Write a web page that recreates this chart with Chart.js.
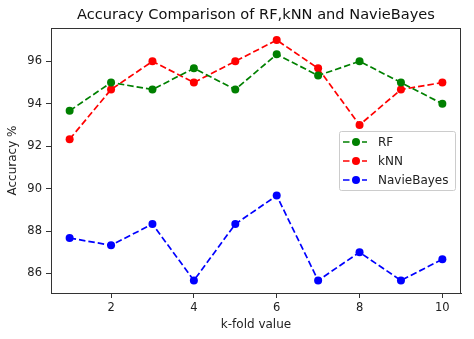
<!DOCTYPE html>
<html>
<head>
<meta charset="utf-8">
<script src="https://cdn.jsdelivr.net/npm/chart.js@4/dist/chart.umd.min.js"></script>
<style>
html,body{margin:0;padding:0;background:#fff;}
#wrap{width:474px;height:339px;position:relative;}
</style>
</head>
<body>
<div id="wrap"><canvas id="c" width="474" height="339"></canvas></div>
<script>
const folds = [1,2,3,4,5,6,7,8,9,10];
const rfAcc = [93.67,95.0,94.67,95.67,94.67,96.33,95.33,96.0,95.0,94.0];
const knnAcc = [92.33,94.67,96.0,95.0,96.0,97.0,95.67,93.0,94.67,95.0];
const nbAcc = [87.67,87.33,88.33,85.67,88.33,89.67,85.67,87.0,85.67,86.67];
const xTicks = [2,4,6,8,10];
const yTicks = [86,88,90,92,94,96];
const seriesNames = ['RF','kNN','NavieBayes'];
const seriesColors = ['#008000','#ff0000','#0000ff'];
const chartTitle = 'Accuracy Comparison of RF,kNN and NavieBayes';

const FONT = 'DejaVu Sans';
const DASH = [6.5,3];

function mk(name, vals, color){
  return {
    label: name,
    data: folds.map((f,i)=>({x:f,y:vals[i]})),
    borderColor: color,
    backgroundColor: color,
    borderWidth: 1.7,
    borderDash: DASH,
    pointRadius: 4,
    pointHoverRadius: 4,
    pointBorderWidth: 0,
    tension: 0,
    fill: false
  };
}

const framePlugin = {
  id: 'frame',
  afterDraw(chart){
    const ctx = chart.ctx, a = chart.chartArea;
    ctx.save();
    ctx.strokeStyle = '#333';
    ctx.lineWidth = 1;
    ctx.strokeRect(Math.round(a.left)+0.5, Math.round(a.top)+0.5, Math.round(a.right-a.left)-1, Math.round(a.bottom-a.top));
    // title centered over plot area
    ctx.fillStyle = '#111';
    ctx.font = '14.6px ' + FONT;
    ctx.textAlign = 'center';
    ctx.textBaseline = 'middle';
    ctx.fillText(chartTitle, (a.left + a.right)/2, 15.5);
    ctx.textAlign = 'left';
    // legend (center right)
    const ds = chart.data.datasets;
    const w = 116, rowH = 19, h = rowH*ds.length + 2;
    const x0 = a.right - 6 - w;
    const y0 = (a.top + a.bottom)/2 - h/2;
    ctx.fillStyle = 'rgba(255,255,255,0.85)';
    ctx.strokeStyle = '#cccccc';
    ctx.lineWidth = 1;
    ctx.beginPath();
    if (ctx.roundRect) ctx.roundRect(x0+0.5, y0+0.5, w, h, 2); else ctx.rect(x0+0.5,y0+0.5,w,h);
    ctx.fill(); ctx.stroke();
    ctx.font = '12px ' + FONT;
    ctx.textBaseline = 'middle';
    ds.forEach((d,i)=>{
      const cy = y0 + 11 + i*rowH;
      ctx.strokeStyle = d.borderColor;
      ctx.lineWidth = 1.7;
      ctx.setLineDash(DASH);
      ctx.beginPath(); ctx.moveTo(x0+4, cy); ctx.lineTo(x0+28, cy); ctx.stroke();
      ctx.setLineDash([]);
      ctx.fillStyle = d.borderColor;
      ctx.beginPath(); ctx.arc(x0+17, cy, 4, 0, Math.PI*2); ctx.fill();
      ctx.fillStyle = '#222';
      ctx.fillText(d.label, x0+39, cy+0.5);
    });
    ctx.restore();
  }
};

new Chart(document.getElementById('c'), {
  type: 'line',
  data: {
    datasets: [
      mk(seriesNames[0], rfAcc, seriesColors[0]),
      mk(seriesNames[1], knnAcc, seriesColors[1]),
      mk(seriesNames[2], nbAcc, seriesColors[2])
    ]
  },
  options: {
    responsive: false,
    animation: false,
    devicePixelRatio: 1,
    layout: { padding: { left: 0, right: 13, top: 28, bottom: 0 } },
    plugins: {
      legend: { display: false },
      tooltip: { enabled: false },
      title: { display: false }
    },
    scales: {
      x: {
        type: 'linear',
        min: 0.55, max: 10.45,
        afterBuildTicks(s){ s.ticks = xTicks.map(v=>({value:v})); },
        afterFit(s){ s.height = 46; },
        grid: { display: true, drawOnChartArea: false, drawTicks: true, tickLength: 5, color: '#333' },
        border: { display: true, color: '#333' },
        ticks: { color: '#222', font: { family: FONT, size: 11.5 }, padding: 3, maxRotation: 0 },
        title: { display: true, text: 'k-fold value', color: '#222', font: { family: FONT, size: 12 }, padding: { top: 2, bottom: 7 } }
      },
      y: {
        type: 'linear',
        min: 85.08, max: 97.57,
        afterBuildTicks(s){ s.ticks = yTicks.map(v=>({value:v})); },
        afterFit(s){ s.width = 51; },
        grid: { display: true, drawOnChartArea: false, drawTicks: true, tickLength: 5, color: '#333' },
        border: { display: true, color: '#333' },
        ticks: { color: '#222', font: { family: FONT, size: 11.5 }, padding: 4 },
        title: { display: true, text: 'Accuracy %', color: '#222', font: { family: FONT, size: 12 }, padding: { top: 6, bottom: 0 } }
      }
    }
  },
  plugins: [framePlugin]
});
</script>
</body>
</html>
